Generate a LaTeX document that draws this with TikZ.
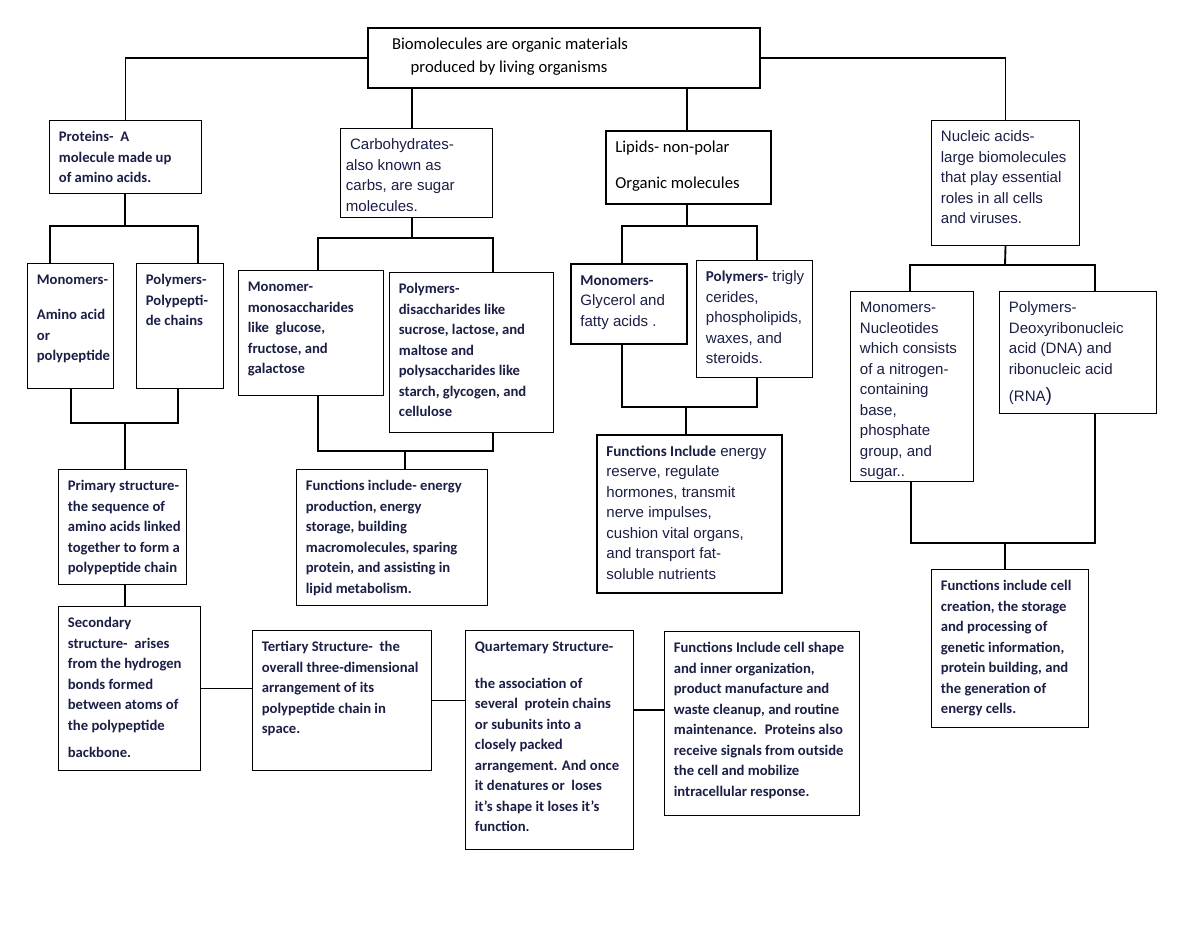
\documentclass[tikz,border=0pt]{standalone}
\usepackage{fontspec}
\usepackage{array}
\setmainfont{Carlito}
\newfontfamily\arialf{Liberation Sans}
\usetikzlibrary{calc}
\usetikzlibrary{positioning}
\definecolor{ink}{HTML}{1B1E45}
\newdimen\px \px=0.75pt
% box content: width, height (px), column font, rows
\newcommand{\cell}[4]{\parbox[t][#2\px][t]{#1\px}{\vspace*{5pt}\hspace*{7pt}%
\begin{tabular}[t]{@{}>{#3}l@{}}#4\end{tabular}}}
\newcommand{\bo}{\bfseries\color{ink}}
\newcommand{\ar}{\arialf\fontsize{11.3}{15}\selectfont\color{ink}}
\newcommand{\rg}{\fontsize{12.5}{15.4}\selectfont}
\tikzstyle{bx}=[draw, anchor=north west, inner sep=0pt, line width=0.8pt,
font=\fontsize{11}{15.4}\selectfont]
\tikzstyle{bxt}=[bx, line width=1.6pt]
\tikzstyle{ln}=[line width=1.4pt]

\begin{document}
\begin{tikzpicture}[x=0.75pt, y=-0.75pt]
\fill[white] (0,0) rectangle (1200,927);
\useasboundingbox (0,0) rectangle (1200,927);

% top
\node[bxt] (top) at (367,27) {\cell{392}{60}{\rg}{\hspace{11pt}Biomolecules are organic materials\\[2pt]
\hspace{25pt}produced by living organisms}};

% four groups
\node[bx] (prot) at (49,120) {\cell{152}{73}{\bo}{Proteins-~ A\\molecule made up\\of amino acids.}};
\node[bx] (carb) at (340,128) {\cell{152}{89}{\ar}{\hspace{-3pt} Carbohydrates-\\\hspace{-3pt}also known as\\\hspace{-3pt}carbs, are sugar\\\hspace{-3pt}molecules.}};
\node[bxt] (lip) at (605,130) {\cell{165}{73}{\rg}{Lipids- non-polar\\[12pt]Organic molecules}};
\node[bx] (nuc) at (931,120) {\cell{148}{125}{\ar}{Nucleic acids-\\large biomolecules\\that play essential\\roles in all cells\\and viruses.}};

% monomers and polymers
\node[bx] (pmon) at (27,263) {\cell{86}{125}{\bo}{Monomers-\\[11pt]Amino acid\\or\\polypeptide}};
\node[bx] (ppol) at (136,263) {\cell{87}{125}{\bo}{Polymers-\\Polypepti-\\de chains}};
\node[bx] (cmon) at (238,270) {\cell{145}{125}{\bo}{Monomer-\\monosaccharides\\like~ glucose,\\fructose, and\\galactose}};
\node[bx] (cpol) at (389,272) {\cell{164}{160}{\bo}{Polymers-\\disaccharides like\\sucrose, lactose, and\\maltose and\\polysaccharides like\\starch, glycogen, and\\cellulose}};
\node[bxt] (lmon) at (570,263) {\cell{116}{80}{\ar}{{\rmfamily\bo Monomers-}\\Glycerol and\\fatty acids .}};
\node[bx] (lpol) at (696,260) {\cell{116}{117}{\ar}{{\rmfamily\bo Polymers-} trigly\\cerides,\\phospholipids,\\waxes, and\\steroids.}};
\node[bx] (nmon) at (850,291) {\cell{123}{190}{\ar}{Monomers-\\Nucleotides\\which consists\\of a nitrogen-\\containing\\base,\\phosphate\\group, and\\sugar..}};
\node[bx] (npol) at (999,291) {\cell{157}{122}{\ar}{Polymers-\\Deoxyribonucleic\\acid (DNA) and\\ribonucleic acid\\[5pt](RNA{\Large )}}};

% functions and structures
\node[bx] (prim) at (58,469) {\cell{128}{115}{\bo}{Primary structure-\\the sequence of\\amino acids linked\\together to form a\\polypeptide chain}};
\node[bx] (sec) at (58,606) {\cell{142}{164}{\bo}{Secondary\\structure-~ arises\\from the hydrogen\\bonds formed\\between atoms of\\the polypeptide\\[5pt]backbone.}};
\node[bx] (ter) at (252,630) {\cell{179}{140}{\bo}{Tertiary Structure-~ the\\overall three-dimensional\\arrangement of its\\polypeptide chain in\\space.}};
\node[bx] (qua) at (465,630) {\cell{168}{219}{\bo}{Quartemary Structure-\\[12pt]the association of\\several~ protein chains\\or subunits into a\\closely packed\\arrangement. And once\\it denatures or~ loses\\it's shape it loses it's\\function.}};
\node[bx] (pfun) at (664,631) {\cell{195}{184}{\bo}{Functions Include cell shape\\and inner organization,\\product manufacture and\\waste cleanup, and routine\\maintenance.~ Proteins also\\receive signals from outside\\the cell and mobilize\\intracellular response.}};
\node[bx] (cfun) at (296,469) {\cell{191}{136}{\bo}{Functions include- energy\\production, energy\\storage, building\\macromolecules, sparing\\protein, and assisting in\\lipid metabolism.}};
\node[bxt] (lfun) at (596,434) {\cell{185}{158}{\ar}{{\rmfamily\bo Functions Include} energy\\reserve, regulate\\hormones, transmit\\nerve impulses,\\cushion vital organs,\\and transport fat-\\soluble nutrients}};
\node[bx] (nfun) at (931,569) {\cell{157}{158}{\bo}{Functions include cell\\creation, the storage\\and processing of\\genetic information,\\protein building, and\\the generation of\\energy cells.}};

% junctions
\coordinate (pj) at (125,226);
\coordinate (pk) at (125,423);
\coordinate (cj) at (412,238);
\coordinate (ck) at (405,451);
\coordinate (lj) at (687,226);
\coordinate (lk) at (686,407);
\coordinate (nj) at (1005,265);
\coordinate (nk) at (1005,543);

% connectors
\draw[ln] (top.west) -| (prot.north);
\draw[ln] (top.east) -| (nuc.north);
\draw[ln] (top.south -| cj) -- (carb.north -| cj);
\draw[ln] (top.south -| lj) -- (lip.north -| lj);

\draw[ln] (prot.south -| pj) -- (pj);
\draw[ln] (pmon.north -| 50,0) |- (pj) -| (ppol.north -| 198,0);
\draw[ln] (pmon.south -| 71,0) |- (pk) -| (ppol.south -| 178,0);
\draw[ln] (pk) -- (prim.north -| pk);
\draw[ln] (prim.south -| pk) -- (sec.north -| pk);
\draw[ln] (sec.east) -- (ter.west |- sec.east);
\draw[ln] (ter.east) -- (qua.west |- ter.east);
\draw[ln] (qua.east |- 0,710) -- (pfun.west |- 0,710);

\draw[ln] (carb.south -| cj) -- (cj);
\draw[ln] (cmon.north -| 318,0) |- (cj) -| (cpol.north -| 493,0);
\draw[ln] (cmon.south -| 318,0) |- (ck) -| (cpol.south -| 493,0);
\draw[ln] (ck) -- (cfun.north -| ck);

\draw[ln] (lip.south -| lj) -- (lj);
\draw[ln] (lmon.north -| 622,0) |- (lj) -| (lpol.north -| 757,0);
\draw[ln] (lmon.south -| 622,0) |- (lk) -| (lpol.south -| 757,0);
\draw[ln] (lk) -- (lfun.north -| lk);

\draw[ln] (nuc.south) -- (nj);
\draw[ln] (nmon.north -| 910,0) |- (nj) -| (npol.north -| 1095,0);
\draw[ln] (nmon.south -| 911,0) |- (nk) -| (npol.south -| 1095,0);
\draw[ln] (nk) -- (nfun.north -| nk);
\end{tikzpicture}
\end{document}
